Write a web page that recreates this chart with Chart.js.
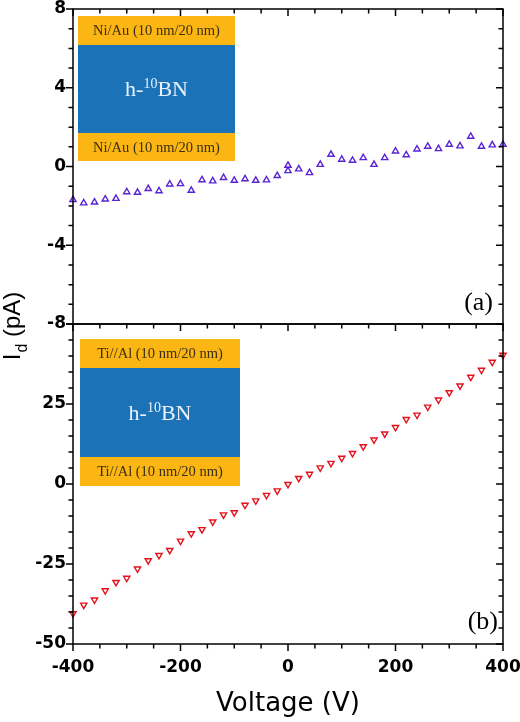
<!DOCTYPE html>
<html>
<head>
<meta charset="utf-8">
<script src="https://cdn.jsdelivr.net/npm/chart.js@4.4.1/dist/chart.umd.min.js"></script>
<style>
  html, body { margin: 0; padding: 0; background: #fff; }
  canvas { display: block; }
</style>
</head>
<body>
<canvas id="chartIV" width="520" height="722"></canvas>
<script>
// Voltage sweep (V), panel (a) has two readings at 0 V
const voltage = [-400, -380, -360, -340, -320, -300, -280, -260, -240, -220, -200, -180, -160, -140, -120, -100, -80, -60, -40, -20, 0, 0, 20, 40, 60, 80, 100, 120, 140, 160, 180, 200, 220, 240, 260, 280, 300, 320, 340, 360, 380, 400];

// (a) Ni/Au contacts, Id in pA
const currentNiAu = [-1.69, -1.86, -1.81, -1.66, -1.63, -1.29, -1.32, -1.13, -1.24, -0.90, -0.88, -1.22, -0.68, -0.74, -0.57, -0.71, -0.63, -0.71, -0.69, -0.47, 0.05, -0.22, -0.13, -0.32, 0.10, 0.61, 0.36, 0.31, 0.44, 0.10, 0.44, 0.78, 0.59, 0.88, 1.02, 0.90, 1.12, 1.04, 1.53, 1.02, 1.09, 1.12];

// (b) Ti/Al contacts, Id in pA
const voltageB = [-400, -380, -360, -340, -320, -300, -280, -260, -240, -220, -200, -180, -160, -140, -120, -100, -80, -60, -40, -20, 0, 20, 40, 60, 80, 100, 120, 140, 160, 180, 200, 220, 240, 260, 280, 300, 320, 340, 360, 380, 400];
const currentTiAl = [-40.5, -37.8, -36.2, -33.3, -30.7, -29.4, -26.5, -23.9, -22.3, -20.7, -17.8, -15.5, -14.2, -11.8, -9.6, -8.9, -6.6, -5.2, -3.5, -2.1, -0.1, 1.8, 3.1, 5.1, 6.5, 8.1, 9.6, 11.7, 13.8, 15.7, 17.7, 20.2, 21.6, 24.1, 26.3, 28.6, 30.7, 33.4, 35.6, 38.1, 40.3];

const insetMetalA = 'Ni/Au (10 nm/20 nm)';
const insetMetalB = 'Ti//Al (10 nm/20 nm)';
const panelLabels = ['(a)', '(b)'];

const SANS = '"DejaVu Sans", Arial, sans-serif';
const SANS_NARROW = '"Liberation Sans", Arial, sans-serif';
const SERIF = '"Liberation Serif", "Times New Roman", serif';

function toPoints(xs, ys) {
    return xs.map((x, i) => ({ x: x, y: ys[i] }));
}

// h-10BN with superscript
function drawBN(ctx, cx, cy) {
    ctx.save();
    ctx.fillStyle = '#e8f1fb';
    ctx.textBaseline = 'alphabetic';
    ctx.textAlign = 'left';
    const big = '22px ' + SERIF, small = '14px ' + SERIF;
    ctx.font = big; const w1 = ctx.measureText('h-').width; const w3 = ctx.measureText('BN').width;
    ctx.font = small; const w2 = ctx.measureText('10').width;
    let x = cx - (w1 + w2 + w3) / 2;
    const base = cy + 7;
    ctx.font = big; ctx.fillText('h-', x, base); x += w1;
    ctx.font = small; ctx.fillText('10', x, base - 8); x += w2;
    ctx.font = big; ctx.fillText('BN', x, base);
    ctx.restore();
}

function drawInset(ctx, x, y, w, bands, metal) {
    const yellow = '#fbb614', blue = '#1c72b6';
    ctx.save();
    ctx.fillStyle = yellow; ctx.fillRect(x, y, w, bands[0]);
    ctx.fillStyle = blue; ctx.fillRect(x, y + bands[0], w, bands[1]);
    ctx.fillStyle = yellow; ctx.fillRect(x, y + bands[0] + bands[1], w, bands[2]);
    ctx.fillStyle = '#3b2f14';
    ctx.font = '14.5px ' + SERIF;
    ctx.textAlign = 'center';
    ctx.textBaseline = 'middle';
    ctx.fillText(metal, x + w / 2, y + bands[0] / 2 + 1);
    ctx.fillText(metal, x + w / 2, y + bands[0] + bands[1] + bands[2] / 2 + 1);
    ctx.restore();
    drawBN(ctx, x + w / 2, y + bands[0] + bands[1] / 2);
}

const framePlugin = {
    id: 'framePlugin',
    beforeDatasetsDraw(chart) {
        const ctx = chart.ctx, area = chart.chartArea;
        const yA = chart.scales.yA, yB = chart.scales.yB;
        drawInset(ctx, area.left + 5, yA.top + 7, 157, [29, 88, 28], insetMetalA);
        drawInset(ctx, area.left + 7, yB.top + 15, 160, [29, 89, 29], insetMetalB);
    },
    afterDatasetsDraw(chart) {
        const ctx = chart.ctx, area = chart.chartArea;
        const xs = chart.scales.x;
        const panels = [
            { s: chart.scales.yA, minor: 1 },
            { s: chart.scales.yB, minor: 5 }
        ];
        ctx.save();
        ctx.strokeStyle = '#000';
        ctx.lineWidth = 1.5;
        panels.forEach(p => {
            const s = p.s;
            ctx.strokeRect(area.left, s.top, area.right - area.left, s.bottom - s.top);
            const major = s.options.ticks.stepSize;
            // y ticks, pointing left on both sides
            for (let v = s.min; v <= s.max + 1e-9; v += p.minor) {
                const py = s.getPixelForValue(v);
                const len = Math.abs(v / major - Math.round(v / major)) < 1e-6 ? 7 : 4.5;
                ctx.beginPath();
                ctx.moveTo(area.left, py); ctx.lineTo(area.left - len, py);
                ctx.moveTo(area.right, py); ctx.lineTo(area.right - len, py);
                ctx.stroke();
            }
            // x ticks, pointing down from the top edge of each panel
            for (let v = xs.min; v <= xs.max + 1e-9; v += 50) {
                const px = xs.getPixelForValue(v);
                const len = v % 200 === 0 ? 7 : 4.5;
                ctx.beginPath();
                ctx.moveTo(px, s.top); ctx.lineTo(px, s.top + len);
                ctx.stroke();
            }
        });
        // bottom axis ticks, outward
        for (let v = xs.min; v <= xs.max + 1e-9; v += 50) {
            const px = xs.getPixelForValue(v);
            const len = v % 200 === 0 ? 7 : 4.5;
            ctx.beginPath();
            ctx.moveTo(px, area.bottom); ctx.lineTo(px, area.bottom + len);
            ctx.stroke();
        }

        // panel letters
        ctx.fillStyle = '#000';
        ctx.font = '26px ' + SERIF;
        ctx.textAlign = 'right';
        ctx.textBaseline = 'middle';
        ctx.fillText(panelLabels[0], area.right - 10, chart.scales.yA.bottom - 21);
        ctx.fillText(panelLabels[1], area.right - 5, chart.scales.yB.bottom - 22);

        // shared y title: I_d (pA)
        ctx.translate(20, (area.top + area.bottom) / 2);
        ctx.rotate(-Math.PI / 2);
        ctx.textAlign = 'left';
        ctx.textBaseline = 'alphabetic';
        const big = '24px ' + SANS_NARROW, small = '16px ' + SANS_NARROW;
        ctx.font = big; const wI = ctx.measureText('I').width; const wP = ctx.measureText(' (pA)').width;
        ctx.font = small; const wd = ctx.measureText('d').width;
        let x = -(wI + wd + wP) / 2;
        ctx.font = big; ctx.fillText('I', x, 0); x += wI + 1;
        ctx.font = small; ctx.fillText('d', x, 7); x += wd;
        ctx.font = big; ctx.fillText(' (pA)', x, 0);
        ctx.restore();
    }
};

const tickFont = { family: SANS, size: 17, weight: 'bold' };

// keep the plot box where the reference has it
function fitY(scale) {
    scale.width = 73;
    scale.paddingTop = 0;
    scale.paddingBottom = 0;
}

new Chart(document.getElementById('chartIV').getContext('2d'), {
    type: 'scatter',
    data: {
        datasets: [
            {
                label: 'Ni/Au',
                data: toPoints(voltage, currentNiAu),
                yAxisID: 'yA',
                pointStyle: 'triangle',
                pointRadius: 3.6,
                pointBorderWidth: 1.4,
                borderColor: '#5a24d4',
                backgroundColor: 'rgba(255,255,255,0)',
                clip: false
            },
            {
                label: 'Ti/Al',
                data: toPoints(voltageB, currentTiAl),
                yAxisID: 'yB',
                pointStyle: 'triangle',
                rotation: 180,
                pointRadius: 3.6,
                pointBorderWidth: 1.4,
                borderColor: '#e5121e',
                backgroundColor: 'rgba(255,255,255,0)',
                clip: false
            }
        ]
    },
    options: {
        responsive: false,
        animation: false,
        layout: { padding: { top: 9, right: 17, left: 0, bottom: 0 } },
        plugins: { legend: { display: false }, tooltip: { enabled: false } },
        scales: {
            x: {
                type: 'linear',
                position: 'bottom',
                min: -400,
                max: 400,
                grid: { display: false, drawTicks: false },
                border: { display: false },
                ticks: { stepSize: 200, font: tickFont, color: '#000', padding: 13, maxRotation: 0 },
                title: {
                    display: true,
                    text: 'Voltage (V)',
                    color: '#000',
                    font: { family: SANS, size: 26 },
                    padding: { top: 0, bottom: 2 }
                },
                afterFit(scale) {
                    scale.height = 78;
                    scale.paddingLeft = 0;
                    scale.paddingRight = 0;
                }
            },
            // in a stack the first scale is placed at the bottom
            yB: {
                type: 'linear',
                position: 'left',
                stack: 'panels',
                stackWeight: 320,
                min: -50,
                max: 50,
                grid: { display: false, drawTicks: false },
                border: { display: false },
                ticks: {
                    stepSize: 25, font: tickFont, color: '#000', padding: 7,
                    callback: v => (v === 50 ? '' : v)
                },
                afterFit: fitY
            },
            yA: {
                type: 'linear',
                position: 'left',
                stack: 'panels',
                stackWeight: 315,
                min: -8,
                max: 8,
                grid: { display: false, drawTicks: false },
                border: { display: false },
                ticks: { stepSize: 4, font: tickFont, color: '#000', padding: 7 },
                afterFit: fitY
            }
        }
    },
    plugins: [framePlugin]
});
</script>
</body>
</html>
